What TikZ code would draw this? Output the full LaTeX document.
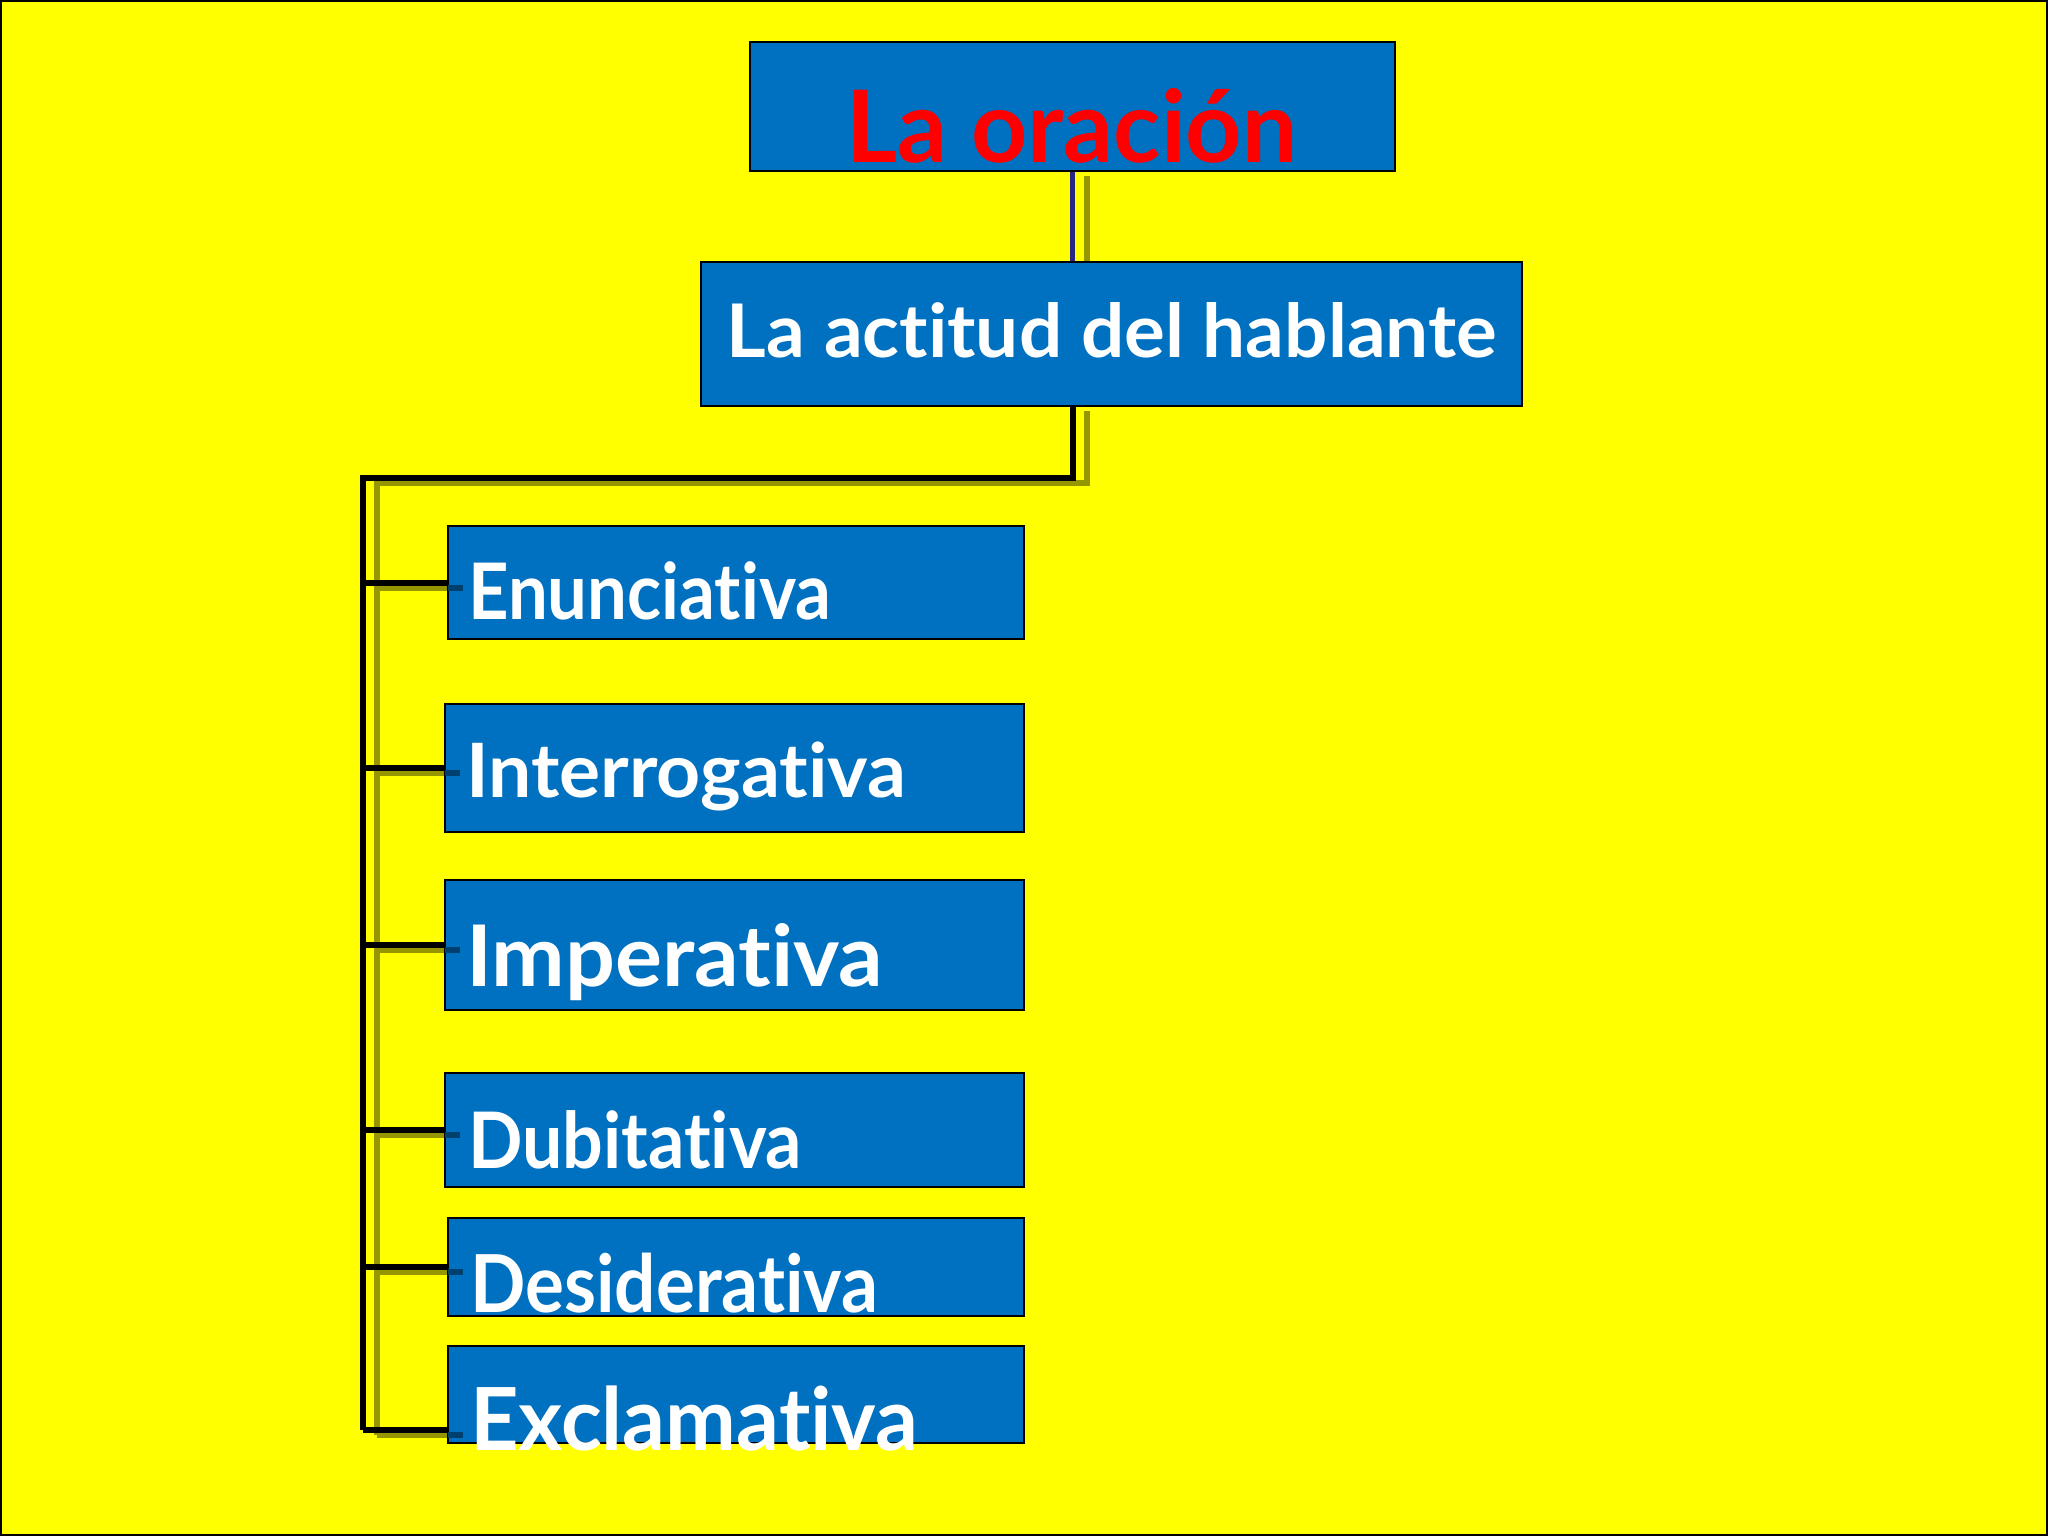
\documentclass[tikz,border=0pt]{standalone}
\usepackage{fontspec}
\setmainfont{Lato}[Ligatures=NoCommon]
\usepackage{graphicx}
\definecolor{bgyel}{RGB}{255,255,0}
\definecolor{boxblue}{RGB}{0,112,192}
\definecolor{shadowol}{RGB}{150,150,0}
\definecolor{navyline}{RGB}{40,40,130}
\definecolor{stubblue}{RGB}{0,64,110}
\newcommand\fitw[3]{\resizebox{#1pt}{\height}{\fontsize{#2}{#2}\selectfont #3}}
\pgfdeclarelayer{back}
\pgfdeclarelayer{lines}
\pgfsetlayers{back,lines,main}
\begin{document}
\begin{tikzpicture}[x=1pt,y=-1pt,
  boxst/.style={draw=black, line width=2pt, fill=boxblue, anchor=north west, inner sep=0pt, outer sep=0pt},
  lbl/.style={anchor=base west, inner sep=0pt, text=white, font=\bfseries},
  conn/.style={line width=6pt, black},
  shad/.style={line width=6pt, shadowol},
  stub/.style={line width=6pt, stubblue}]
\useasboundingbox (0,0) rectangle (2048,1536);
\begin{pgfonlayer}{back}
\fill[bgyel] (0,0) rectangle (2048,1536);
\end{pgfonlayer}
% boxes
\node[boxst, minimum width=645pt, minimum height=129pt] (root) at (750,42) {};
\node[boxst, minimum width=821pt, minimum height=144pt] (mid) at (701,262) {};
\node[boxst, minimum width=576pt, minimum height=113pt] (enu) at (448,526) {};
\node[boxst, minimum width=579pt, minimum height=128pt] (int) at (445,704) {};
\node[boxst, minimum width=579pt, minimum height=130pt] (imp) at (445,880) {};
\node[boxst, minimum width=579pt, minimum height=114pt] (dub) at (445,1073) {};
\node[boxst, minimum width=576pt, minimum height=98pt] (des) at (448,1218) {};
\node[boxst, minimum width=576pt, minimum height=97pt] (exc) at (448,1346) {};
\coordinate (busTop) at (363,478);
\coordinate (busBot) at (363,1430);
% connectors + shadows
\begin{pgfonlayer}{lines}
\begin{scope}[transform canvas={shift={(14pt,-5pt)}}]
\draw[shad] (root.south) -- (root.south |- mid.north);
\draw[shad] (root.south |- mid.south) |- (busTop) -- (busBot);
\draw[shad] (busTop |- enu.west) -- (enu.west);
\draw[shad] (busTop |- int.west) -- (int.west);
\draw[shad] (busTop |- imp.west) -- (imp.west);
\draw[shad] (busTop |- dub.west) -- (dub.west);
\draw[shad] (busTop |- des.west) -- (des.west);
\draw[shad] (busBot) -- (busBot -| exc.west);
\end{scope}
\draw[line width=5pt, navyline] (root.south) -- (root.south |- mid.north);
\draw[conn] (root.south |- mid.south) |- (busTop) -- (busBot);
\draw[conn] (busTop |- enu.west) -- (enu.west);
\draw[conn] (busTop |- int.west) -- (int.west);
\draw[conn] (busTop |- imp.west) -- (imp.west);
\draw[conn] (busTop |- dub.west) -- (dub.west);
\draw[conn] (busTop |- des.west) -- (des.west);
\draw[conn] (busBot) -- (busBot -| exc.west);
\end{pgfonlayer}
% stubs
\draw[stub] ([yshift=-5pt]enu.west) -- ++(15,0);
\draw[stub] ([yshift=-5pt]int.west) -- ++(15,0);
\draw[stub] ([yshift=-5pt]imp.west) -- ++(15,0);
\draw[stub] ([yshift=-5pt]dub.west) -- ++(15,0);
\draw[stub] ([yshift=-5pt]des.west) -- ++(15,0);
\draw[stub] ([yshift=-5pt]busBot -| exc.west) -- ++(15,0);
% texts
\node[lbl, text=red, anchor=base] (roott) at (1072,163) {\fitw{451}{100}{La oración}};
\node[lbl, anchor=base] (midt) at (1112,357) {\fitw{770}{74}{La actitud del hablante}};
\node[lbl] (enut) at (468,619) {\fitw{363}{78}{Enunciativa}};
\node[lbl] (intt) at (466,797) {\fitw{440}{75}{Interrogativa}};
\node[lbl] (impt) at (466,986) {\fitw{417}{85}{Imperativa}};
\node[lbl] (dubt) at (468,1168) {\fitw{334}{78}{Dubitativa}};
\node[lbl] (dest) at (470,1312) {\fitw{408}{80}{Desiderativa}};
\node[lbl] (exct) at (470,1450) {\fitw{448}{87}{Exclamativa}};
% frame
\draw[line width=2pt] (1,1) rectangle (2047,1535);
\end{tikzpicture}
\end{document}
